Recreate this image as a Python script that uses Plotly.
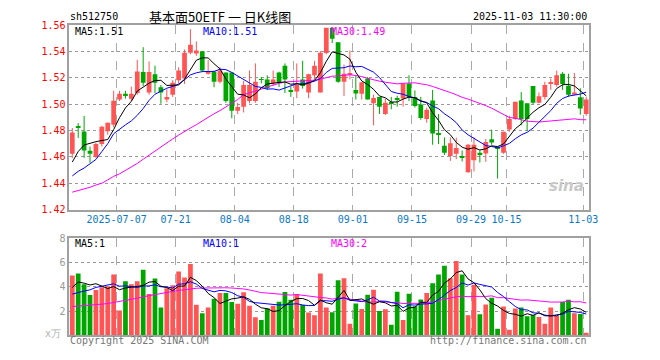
import plotly.graph_objects as go
import pandas as pd

# ---------------- data ----------------
tick_index = [8, 18, 28, 38, 48, 58, 68, 74, 87]
tick_labels = ["2025-07-07", "07-21", "08-04", "08-18", "09-01", "09-15", "09-29", "10-15", "11-03"]

opens = [1.4623, 1.4826, 1.4793, 1.4646, 1.4599, 1.4697, 1.4795, 1.4844, 1.5035, 1.5079,
         1.5040, 1.5084, 1.5243, 1.5089, 1.5226, 1.5128, 1.5035, 1.5072, 1.5182, 1.5194,
         1.5390, 1.5385, 1.5402, 1.5231, 1.5248, 1.5170, 1.5241, 1.5241, 1.4949, 1.4981,
         1.5023, 1.5023, 1.5189, 1.5187, 1.5157, 1.5241, 1.5292, 1.5105, 1.5096, 1.5187,
         1.5089, 1.5219, 1.5089, 1.5388, 1.5579, 1.5469, 1.5170, 1.5222, 1.5108, 1.5079,
         1.5194, 1.5006, 1.5055, 1.4925, 1.5014, 1.5046, 1.5042, 1.5157, 1.5055, 1.4998,
         1.4888, 1.5028, 1.4777, 1.4685, 1.4606, 1.4623, 1.4603, 1.4484, 1.4574, 1.4631,
         1.4625, 1.4734, 1.4677, 1.4631, 1.4807, 1.4888, 1.5028, 1.5006, 1.5138, 1.5010,
         1.5055, 1.5155, 1.5145, 1.5231, 1.5140, 1.5072, 1.5052, 1.4925]
highs = [1.4819, 1.4856, 1.4910, 1.4678, 1.4707, 1.4836, 1.4860, 1.5101, 1.5101, 1.5101,
         1.5133, 1.5336, 1.5432, 1.5324, 1.5292, 1.5145, 1.5113, 1.5182, 1.5280, 1.5415,
         1.5569, 1.5476, 1.5402, 1.5334, 1.5248, 1.5280, 1.5241, 1.5241, 1.5010, 1.5177,
         1.5255, 1.5309, 1.5206, 1.5219, 1.5255, 1.5246, 1.5309, 1.5133, 1.5309, 1.5329,
         1.5231, 1.5329, 1.5402, 1.5579, 1.5579, 1.5469, 1.5300, 1.5407, 1.5219, 1.5167,
         1.5206, 1.5072, 1.5055, 1.5042, 1.5055, 1.5064, 1.5157, 1.5219, 1.5104, 1.5055,
         1.4974, 1.5108, 1.4925, 1.4748, 1.4748, 1.4746, 1.4648, 1.4697, 1.4748, 1.4650,
         1.4736, 1.4807, 1.4680, 1.4790, 1.4912, 1.5018, 1.5091, 1.5006, 1.5138, 1.5089,
         1.5170, 1.5194, 1.5255, 1.5243, 1.5231, 1.5236, 1.5121, 1.5055]
lows = [1.4590, 1.4744, 1.4592, 1.4555, 1.4592, 1.4678, 1.4768, 1.4824, 1.5023, 1.5042,
        1.5023, 1.5072, 1.5138, 1.5072, 1.5084, 1.5003, 1.5015, 1.5055, 1.5157, 1.5153,
        1.5378, 1.5366, 1.5243, 1.5224, 1.5128, 1.5157, 1.5010, 1.4893, 1.4925, 1.4937,
        1.5006, 1.5010, 1.5157, 1.5108, 1.5138, 1.5130, 1.5084, 1.5055, 1.5045, 1.5118,
        1.5045, 1.5187, 1.5089, 1.5378, 1.5464, 1.5162, 1.5062, 1.5187, 1.5035, 1.5035,
        1.5035, 1.4839, 1.4925, 1.4917, 1.4961, 1.4981, 1.4981, 1.5023, 1.4974, 1.4881,
        1.4859, 1.4692, 1.4697, 1.4614, 1.4569, 1.4582, 1.4565, 1.4479, 1.4489, 1.4557,
        1.4562, 1.4692, 1.4435, 1.4623, 1.4790, 1.4881, 1.4839, 1.4797, 1.4998, 1.5006,
        1.5035, 1.5108, 1.5133, 1.5108, 1.5055, 1.5072, 1.4920, 1.4912]
closes = [1.4785, 1.4822, 1.4648, 1.4624, 1.4697, 1.4829, 1.4859, 1.5025, 1.5079, 1.5064,
          1.5079, 1.5248, 1.5162, 1.5243, 1.5162, 1.5089, 1.5055, 1.5162, 1.5255, 1.5390,
          1.5451, 1.5407, 1.5255, 1.5251, 1.5170, 1.5255, 1.5023, 1.4949, 1.4979, 1.5145,
          1.5145, 1.5170, 1.5183, 1.5121, 1.5187, 1.5162, 1.5187, 1.5097, 1.5145, 1.5138,
          1.5226, 1.5292, 1.5390, 1.5579, 1.5496, 1.5170, 1.5231, 1.5231, 1.5081, 1.5167,
          1.5035, 1.5047, 1.4981, 1.5010, 1.5006, 1.5038, 1.5157, 1.5055, 1.4986, 1.4895,
          1.4957, 1.4778, 1.4769, 1.4631, 1.4704, 1.4667, 1.4595, 1.4692, 1.4692, 1.4614,
          1.4712, 1.4709, 1.4663, 1.4790, 1.4888, 1.5018, 1.4888, 1.4888, 1.5010, 1.5059,
          1.5145, 1.5159, 1.5219, 1.5153, 1.5072, 1.5089, 1.4966, 1.5035]
volumes = [4.93, 5.09, 4.21, 3.33, 3.73, 3.97, 4.05, 5.01, 2.05, 4.45,
           4.21, 4.45, 5.41, 3.41, 4.69, 2.29, 3.89, 4.13, 5.26, 4.76,
           5.89, 2.53, 1.81, 2.29, 3.01, 3.49, 3.49, 2.75, 2.61, 3.55,
           2.43, 1.49, 1.26, 2.23, 2.43, 2.76, 3.58, 2.93, 3.41, 2.50,
           1.89, 1.66, 5.09, 2.29, 1.90, 4.55, 4.70, 0.96, 2.62, 2.16,
           3.35, 3.75, 2.00, 2.14, 0.86, 3.60, 1.27, 3.42, 2.40, 2.96,
           3.50, 4.30, 5.02, 5.73, 4.70, 6.14, 5.02, 1.66, 4.17, 1.74,
           2.54, 3.10, 0.53, 2.37, 0.46, 2.21, 2.30, 1.57, 1.68, 1.52,
           0.96, 2.30, 1.60, 2.75, 2.93, 1.82, 1.75, 0.22]

ma5_head = [1.456, 1.464, 1.469, 1.4705]
ma10_head = [1.4455, 1.449, 1.4515, 1.4545, 1.458, 1.464, 1.470, 1.4775, 1.481]
ma30_head = [1.4332, 1.4344, 1.4356, 1.4369, 1.4386, 1.4400, 1.4425, 1.4452, 1.4471, 1.4496,
             1.4525, 1.4550, 1.4582, 1.4614, 1.4643, 1.4672, 1.4704, 1.4736, 1.4765, 1.4795,
             1.4819, 1.4844, 1.4873, 1.4900, 1.4927, 1.4951, 1.4980, 1.5005, 1.5035]
vma5_head = [3.95, 4.40, 4.30, 4.15]
vma10_head = [3.40, 3.55, 3.65, 3.75, 3.95, 4.05, 4.15, 4.25, 4.05]
vma30_head = [2.37, 2.40, 2.43, 2.47, 2.52, 2.57, 2.62, 2.70, 2.78, 2.86,
              2.96, 3.06, 3.18, 3.28, 3.37, 3.45, 3.55, 3.62, 3.70, 3.78,
              3.85, 3.88, 3.90, 3.92, 3.93, 3.93, 3.92, 3.90, 3.87]

# ---------------- helpers ----------------
def moving_avg(values, n, head):
    s = pd.Series(values).rolling(n).mean().tolist()
    return list(head) + s[len(head):]

N = len(closes)
idx = list(range(N))
RED = "#ff5555"
GREEN = "#00a600"
up = [c >= o for o, c in zip(opens, closes)]
colors = [RED if u else GREEN for u in up]

W, H = 660, 360
def px(x):
    return x / W
def py(y):
    return 1 - y / H

fig = go.Figure()

# wicks
for flag, col in ((True, RED), (False, GREEN)):
    wx, wy = [], []
    for i in idx:
        if up[i] == flag:
            wx += [i, i, None]
            wy += [lows[i], highs[i], None]
    fig.add_trace(go.Scatter(x=wx, y=wy, mode="lines", line=dict(color=col, width=1),
                             xaxis="x", yaxis="y", hoverinfo="skip"))

# bodies
body_base = [min(o, c) for o, c in zip(opens, closes)]
body_h = [max(abs(c - o), 0.0007) for o, c in zip(opens, closes)]
fig.add_trace(go.Bar(x=idx, y=body_h, base=body_base, width=0.8,
                     marker=dict(color=colors, line=dict(width=0)),
                     xaxis="x", yaxis="y", hoverinfo="skip"))

# price MAs
for vals, col in ((moving_avg(closes, 30, ma30_head), "#ff00ff"),
                  (moving_avg(closes, 10, ma10_head), "#0000ff"),
                  (moving_avg(closes, 5, ma5_head), "#000000")):
    fig.add_trace(go.Scatter(x=idx, y=vals, mode="lines", line=dict(color=col, width=1),
                             xaxis="x", yaxis="y", hoverinfo="skip"))

# volume bars
fig.add_trace(go.Bar(x=idx, y=volumes, width=0.8,
                     marker=dict(color=colors, line=dict(width=0)),
                     xaxis="x2", yaxis="y2", hoverinfo="skip"))
for vals, col in ((moving_avg(volumes, 30, vma30_head), "#ff00ff"),
                  (moving_avg(volumes, 10, vma10_head), "#0000ff"),
                  (moving_avg(volumes, 5, vma5_head), "#000000")):
    fig.add_trace(go.Scatter(x=idx, y=vals, mode="lines", line=dict(color=col, width=1),
                             xaxis="x2", yaxis="y2", hoverinfo="skip"))

MONO = "DejaVu Sans Mono"
xdom = [px(70.3), px(597.3)]
grid_x = [t - 0.5 for t in tick_index]
frame = dict(showline=True, mirror=True, linecolor="#a0a0a0", linewidth=1.5)

fig.update_layout(
    width=W, height=H, autosize=False,
    margin=dict(l=0, r=0, t=0, b=0),
    paper_bgcolor="white", plot_bgcolor="white",
    showlegend=False, barmode="overlay", hovermode=False,
    xaxis=dict(domain=xdom, range=[-0.5, N - 0.5], anchor="y",
               tickmode="array", tickvals=grid_x, ticktext=tick_labels,
               tickfont=dict(family=MONO, size=10, color="#0a78c8"),
               showgrid=True, gridcolor="#aaaaaa", griddash="dash", gridwidth=1,
               ticks="", zeroline=False, **frame),
    yaxis=dict(domain=[py(211.0), py(20.7)], range=[1.42, 1.56], anchor="x",
               tickmode="array", tickvals=[1.42, 1.44, 1.46, 1.48, 1.50, 1.52, 1.54, 1.56],
               ticktext=["1.42", "1.44", "1.46", "1.48", "1.50", "1.52", "1.54", "1.56"],
               tickfont=dict(family=MONO, size=10, color="#ff0000"),
               showgrid=True, gridcolor="#999999", griddash="dot", gridwidth=1,
               ticks="", zeroline=False, **frame),
    xaxis2=dict(domain=xdom, range=[-0.5, N - 0.5], anchor="y2",
                tickmode="array", tickvals=grid_x, showticklabels=False,
                showgrid=True, gridcolor="#aaaaaa", griddash="dash", gridwidth=1,
                ticks="", zeroline=False, **frame),
    yaxis2=dict(domain=[py(340.7), py(240.7)], range=[0, 8], anchor="x2",
                tickmode="array", tickvals=[2, 4, 6, 8], ticktext=["2", "4", "6", "8"],
                tickfont=dict(family=MONO, size=10, color="#999999"),
                showgrid=True, gridcolor="#999999", griddash="dot", gridwidth=1,
                ticks="", zeroline=False, **frame),
)

def note(text, x, y, color="#000000", anchor="left", size=10, family=MONO):
    fig.add_annotation(text=text, x=px(x), y=py(y), xref="paper", yref="paper",
                       xanchor=anchor, yanchor="middle", showarrow=False,
                       font=dict(family=family, size=size, color=color))

note("sh512750", 69, 12)
note("基本面50ETF 一 日K线图", 223, 12, anchor="center", size=13, family="Noto Sans CJK SC")
note("2025-11-03 11:30:00", 597, 12, anchor="right")
note("MA5:1.51", 74, 27)
note("MA10:1.51", 204, 27, color="#0000ff")
note("MA30:1.49", 334, 27, color="#ff00ff")
note("MA5:1", 74, 246)
note("MA10:1", 204, 246, color="#0000ff")
note("MA30:2", 334, 246, color="#ff00ff")
note("x万", 64, 339, color="#b0b0b0", anchor="right")
note("Copyright 2025 SINA.COM", 69, 346, color="#777777")
note("http://finance.sina.com.cn", 597, 346, color="#777777", anchor="right")
note("<b><i>sina</i></b>", 574, 187, color="#c8c8c8", anchor="center", size=15, family="DejaVu Sans")

fig.write_html("out.html", config={"displayModeBar": False},
               post_script="document.body.style.margin='0';")
